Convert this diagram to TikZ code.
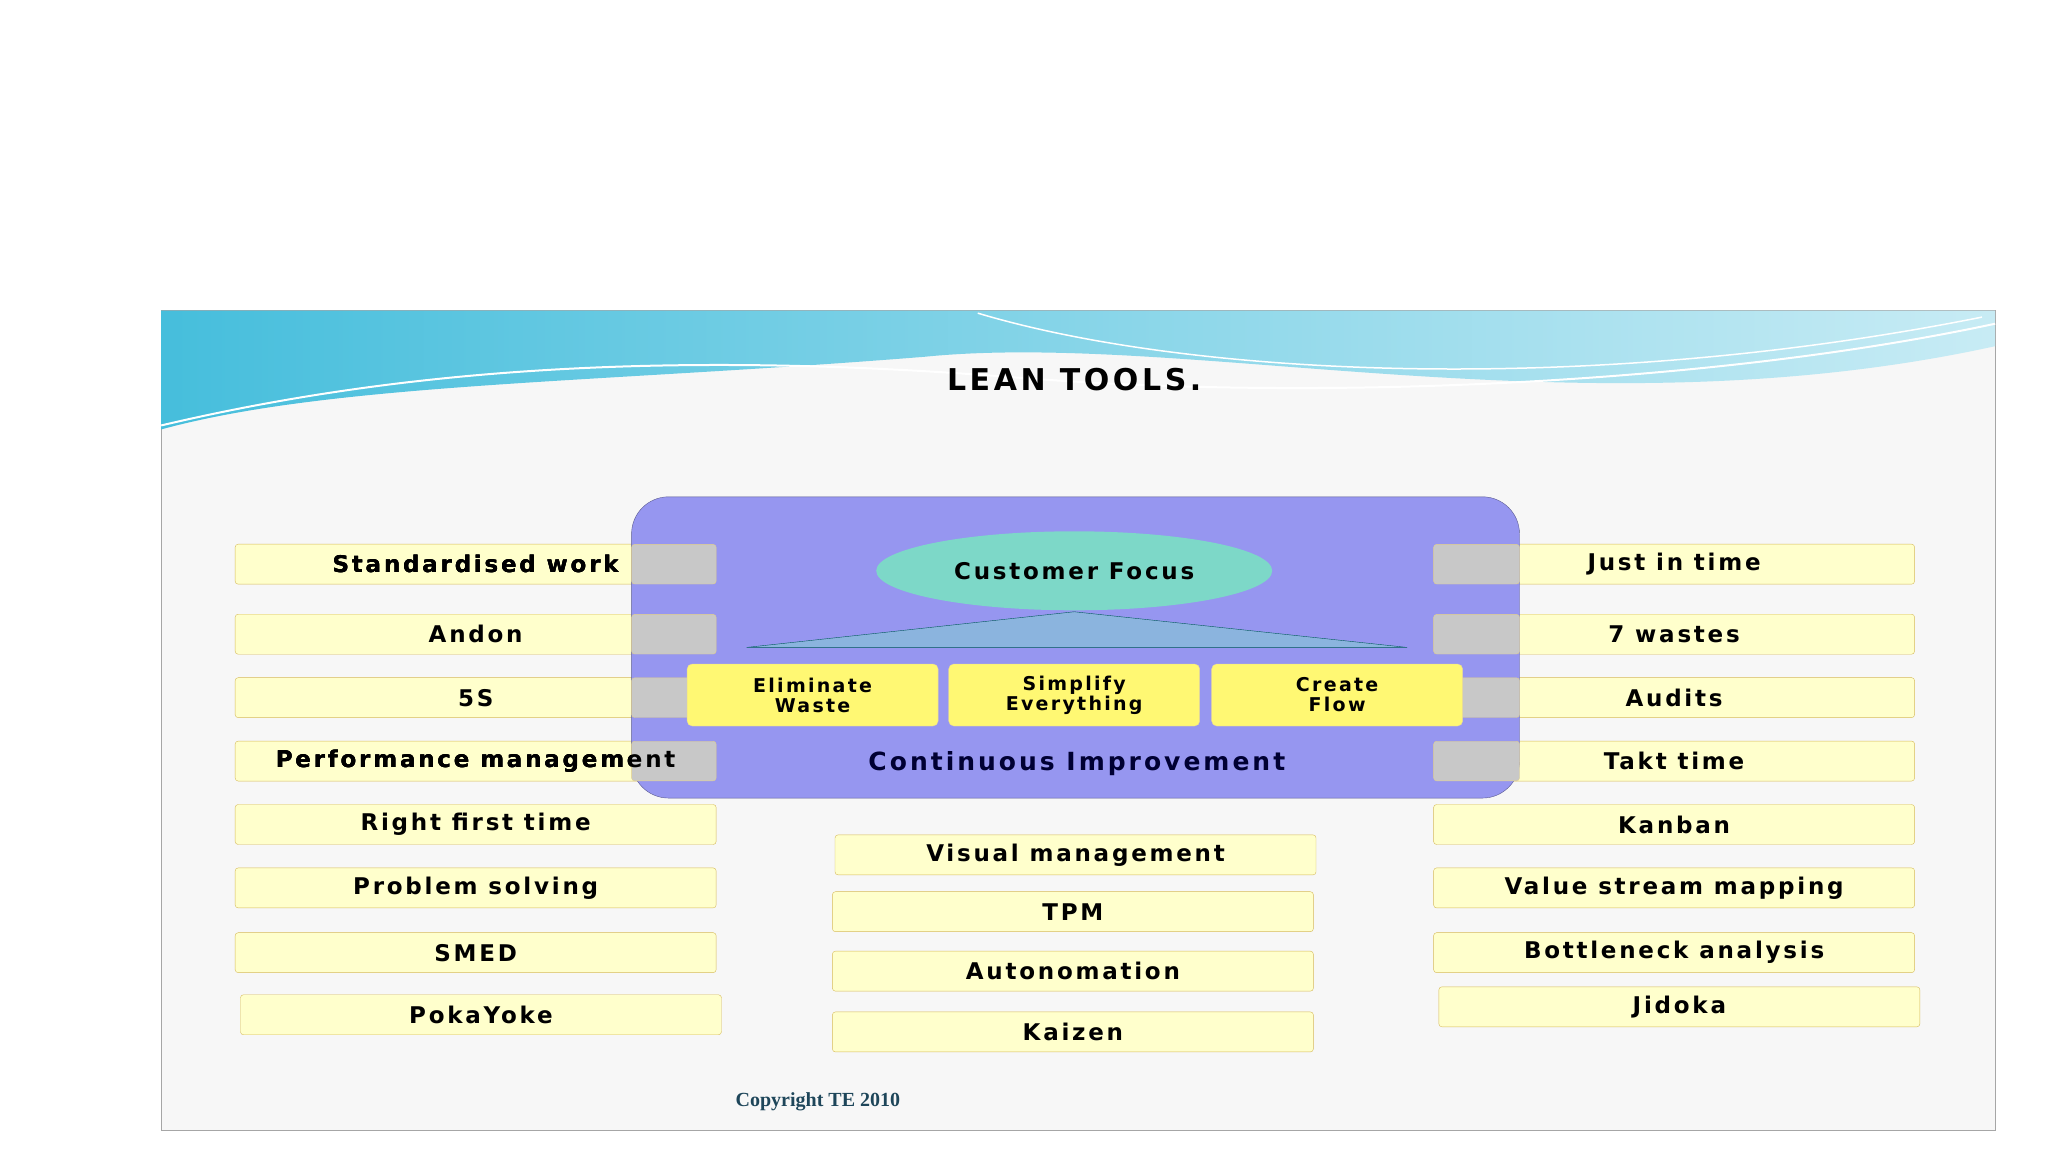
\documentclass[tikz,border=0pt]{standalone}
\usepackage{fontspec}
\setmainfont{DejaVu Sans}
\newfontfamily\copyfont{Liberation Serif}
\newfontfamily\toolfont[LetterSpace=12]{DejaVu Sans}
\usetikzlibrary{shapes.geometric}
\definecolor{boxyellow}{RGB}{255,255,204}
\definecolor{boxedge}{RGB}{214,186,90}
\definecolor{panelblue}{RGB}{150,150,240}
\definecolor{focusteal}{RGB}{125,216,200}
\definecolor{tabgray}{RGB}{200,200,200}
\definecolor{wavecyan}{RGB}{70,190,220}
\definecolor{copyteal}{RGB}{30,70,90}
\tikzset{
  tool/.style={draw=boxedge, fill=boxyellow, rounded corners=3pt, minimum width=481pt, minimum height=40pt,
    font=\toolfont\fontsize{23}{23}\selectfont\bfseries, inner sep=0pt},
  pillar/.style={draw=boxedge!60, fill=yellow!55, rounded corners=5pt, minimum width=251pt, minimum height=62pt,
    font=\toolfont\fontsize{19}{20}\selectfont\bfseries, align=center, inner sep=0pt}
}
\begin{document}
\begin{tikzpicture}[x=1.3213pt, y=-1.3213pt]
    \useasboundingbox (0,0) rectangle (1550,872);
    \fill[white] (0,0) rectangle (1550,872);

    % Slide background and wave
    \draw[gray!70, fill=gray!6] (122,235) rectangle (1510,855);
    \shade[left color=wavecyan, right color=wavecyan!30] (122,235) -- (1510,235) -- (1510,262)
        .. controls (1200,330) and (900,250) .. (700,270) .. controls (450,290) and (250,290) .. (122,325) -- cycle;
    \draw[white, line width=2pt] (122,322) .. controls (300,280) and (500,265) .. (760,285) .. controls (1000,305) and (1300,290) .. (1510,245);
    \draw[white, line width=1.5pt] (740,237) .. controls (900,285) and (1200,300) .. (1500,240);
    \node[font=\toolfont\fontsize{30}{30}\selectfont\bfseries] (title) at (813,287) {LEAN TOOLS.};

    % Left and right tools
    \foreach \t [count=\i] in {Standardised work,Andon,5S,Performance management,Right first time,Problem solving,SMED} {
        \pgfmathsetmacro{\yy}{{427,480,528,576,624,672,721}[\i-1]}
        \node[tool] (l\i) at (360,\yy) {\t};
    }
    \node[tool] (l8) at (364,768) {PokaYoke};
    \foreach \t [count=\i] in {Just in time,7 wastes,Audits,Takt time,Kanban,Value stream mapping,Bottleneck analysis} {
        \pgfmathsetmacro{\yy}{{427,480,528,576,624,672,721}[\i-1]}
        \node[tool] (r\i) at (1267,\yy) {\t};
    }
    \node[tool] (r8) at (1271,762) {Jidoka};
    % text of tools under the panel, drawn again on top
    \node[font=\toolfont\fontsize{23}{23}\selectfont\bfseries] at (l1.center) {Standardised work};
    \node[font=\toolfont\fontsize{23}{23}\selectfont\bfseries] at (l4.center) {Performance management};

    % Centre panel
    \draw[panelblue!60!black, fill=panelblue, rounded corners=37pt] (478,376) rectangle (1150,604);
    \foreach \i in {1,...,4} {
        \pgfmathsetmacro{\yy}{{427,480,528,576}[\i-1]}
        \draw[boxedge!70, fill=tabgray, rounded corners=3pt] (478,\yy-15) rectangle (542,\yy+15);
        \draw[boxedge!70, fill=tabgray, rounded corners=3pt] (1085,\yy-15) rectangle (1150,\yy+15);
    }
    \node[font=\toolfont\fontsize{23}{23}\selectfont\bfseries] at (l1.center) {Standardised work};
    \node[font=\toolfont\fontsize{23}{23}\selectfont\bfseries] at (l4.center) {Performance management};
    \node[ellipse, fill=focusteal, minimum width=396pt, minimum height=79pt, font=\toolfont\fontsize{23}{23}\selectfont\bfseries] (focus) at (813,432) {Customer Focus};
    \draw[teal!70!black, fill=focusteal!45!panelblue] (565,490) -- (813,463) -- (1065,490) -- cycle;
    \node[pillar] (waste) at (615,526) {Eliminate\\Waste};
    \node[pillar] (simple) at (813,526) {Simplify\\Everything};
    \node[pillar] (flow) at (1012,526) {Create\\Flow};
    \node[font=\toolfont\fontsize{25}{25}\selectfont\bfseries, text=blue!20!black] (ci) at (815,578) {Continuous Improvement};

    % Middle tools
    \node[tool] (m1) at (814,647) {Visual management};
    \node[tool] (m2) at (812,690) {TPM};
    \node[tool] (m3) at (812,735) {Autonomation};
    \node[tool] (m4) at (812,781) {Kaizen};

    \node[font=\copyfont\fontsize{20}{20}\selectfont\bfseries, text=copyteal] (copy) at (619,834) {Copyright TE 2010};
\end{tikzpicture}
\end{document}
